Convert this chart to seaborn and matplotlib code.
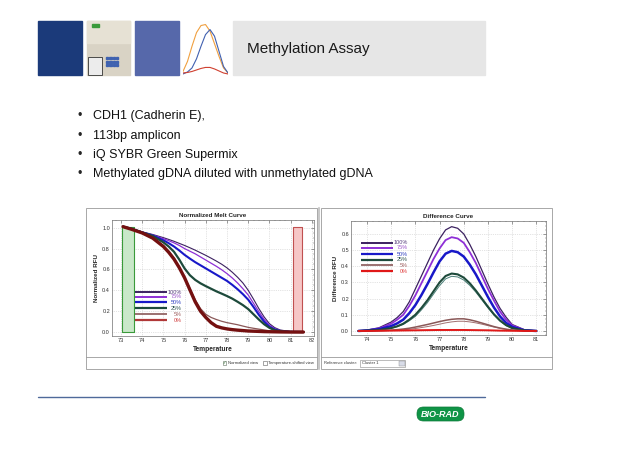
import matplotlib.pyplot as plt
import seaborn as sns
import pandas as pd
from matplotlib.patches import Rectangle, FancyBboxPatch
from matplotlib.ticker import MultipleLocator

# Dados
samples = ['100%', '75%', '50%', '25%', '5%', '0%']

melt_temp = [73.1, 73.5, 74.0, 74.5, 75.0, 75.25, 75.5, 75.75, 76.0, 76.25,
             76.5, 76.75, 77.0, 77.25, 77.5, 77.75, 78.0, 78.25, 78.5, 78.75,
             79.0, 79.25, 79.5, 79.75, 80.0, 80.25, 80.5, 81.0, 81.6]
melt_100 = [1.01, 0.99, 0.96, 0.935, 0.905, 0.888, 0.87, 0.85, 0.83, 0.808,
            0.785, 0.76, 0.735, 0.708, 0.68, 0.65, 0.615, 0.573, 0.525, 0.47,
            0.40, 0.315, 0.225, 0.145, 0.08, 0.042, 0.02, 0.004, 0.0]
melt_75 = [1.01, 0.99, 0.96, 0.93, 0.895, 0.876, 0.855, 0.83, 0.80, 0.775,
           0.75, 0.72, 0.69, 0.66, 0.63, 0.597, 0.56, 0.518, 0.47, 0.415,
           0.355, 0.275, 0.195, 0.122, 0.065, 0.033, 0.015, 0.003, 0.0]
melt_50 = [1.01, 0.99, 0.955, 0.925, 0.88, 0.852, 0.82, 0.782, 0.74, 0.704,
           0.67, 0.64, 0.61, 0.58, 0.55, 0.52, 0.49, 0.452, 0.41, 0.363,
           0.31, 0.24, 0.165, 0.10, 0.05, 0.024, 0.01, 0.002, 0.0]
melt_25 = [1.01, 0.99, 0.955, 0.92, 0.86, 0.82, 0.77, 0.695, 0.61, 0.545,
           0.50, 0.467, 0.44, 0.415, 0.39, 0.368, 0.345, 0.32, 0.29, 0.258,
           0.22, 0.17, 0.12, 0.075, 0.04, 0.018, 0.008, 0.001, 0.0]
melt_5 = [1.01, 0.985, 0.95, 0.905, 0.83, 0.777, 0.71, 0.628, 0.53, 0.42,
          0.31, 0.225, 0.17, 0.14, 0.12, 0.103, 0.09, 0.08, 0.07, 0.057,
          0.045, 0.036, 0.028, 0.02, 0.012, 0.007, 0.004, 0.0, 0.0]
melt_0 = [1.01, 0.985, 0.95, 0.90, 0.82, 0.765, 0.70, 0.617, 0.52, 0.405,
          0.29, 0.20, 0.14, 0.09, 0.055, 0.04, 0.03, 0.023, 0.018, 0.014,
          0.01, 0.008, 0.006, 0.004, 0.003, 0.002, 0.001, 0.0, 0.0]
start_region = [73.05, 73.6]
end_region = [81.1, 81.55]
region_top = 1.01

diff_temp = [73.65, 74.0, 74.5, 75.0, 75.25, 75.5, 75.75, 76.0, 76.25, 76.5,
             76.75, 77.0, 77.25, 77.5, 77.75, 78.0, 78.25, 78.5, 78.75, 79.0,
             79.25, 79.5, 79.75, 80.0, 80.5, 81.0]
diff_100 = [0.0, 0.005, 0.02, 0.055, 0.083, 0.12, 0.18, 0.26, 0.34, 0.42,
            0.50, 0.57, 0.625, 0.645, 0.635, 0.60, 0.535, 0.46, 0.375, 0.29,
            0.21, 0.14, 0.085, 0.04, 0.008, 0.0]
diff_75 = [0.0, 0.004, 0.016, 0.045, 0.07, 0.10, 0.155, 0.22, 0.295, 0.37,
           0.445, 0.51, 0.562, 0.58, 0.572, 0.545, 0.487, 0.42, 0.34, 0.26,
           0.188, 0.12, 0.07, 0.035, 0.006, 0.0]
diff_50 = [0.0, 0.003, 0.011, 0.03, 0.047, 0.07, 0.11, 0.16, 0.222, 0.29,
           0.362, 0.43, 0.478, 0.495, 0.487, 0.46, 0.41, 0.35, 0.28, 0.21,
           0.145, 0.09, 0.05, 0.025, 0.004, 0.0]
diff_25 = [0.0, 0.002, 0.006, 0.018, 0.029, 0.045, 0.07, 0.10, 0.142, 0.19,
           0.245, 0.30, 0.34, 0.355, 0.35, 0.33, 0.295, 0.25, 0.20, 0.15,
           0.103, 0.065, 0.036, 0.018, 0.003, 0.0]
diff_25b = [0.0, 0.002, 0.005, 0.016, 0.026, 0.04, 0.063, 0.09, 0.13, 0.175,
            0.228, 0.28, 0.322, 0.338, 0.334, 0.315, 0.282, 0.24, 0.192, 0.143,
            0.098, 0.06, 0.033, 0.016, 0.003, 0.0]
diff_5 = [0.0, 0.0, 0.002, 0.005, 0.008, 0.012, 0.017, 0.024, 0.032, 0.04,
          0.049, 0.058, 0.066, 0.072, 0.075, 0.075, 0.069, 0.06, 0.049, 0.038,
          0.027, 0.018, 0.011, 0.006, 0.001, 0.0]
diff_5b = [0.0, 0.0, 0.001, 0.003, 0.005, 0.007, 0.011, 0.015, 0.021, 0.027,
           0.034, 0.042, 0.05, 0.056, 0.06, 0.06, 0.056, 0.05, 0.042, 0.033,
           0.024, 0.016, 0.01, 0.005, 0.001, 0.0]
diff_0 = [0.0, 0.0, 0.001, 0.002, 0.0025, 0.003, 0.0035, 0.004, 0.0045, 0.005,
          0.0055, 0.006, 0.006, 0.006, 0.006, 0.006, 0.0055, 0.005, 0.0045, 0.004,
          0.003, 0.002, 0.0015, 0.001, 0.0, 0.0]

# miniatura no cabeçalho
icon_x = [0, 1, 2, 3, 4, 5, 6, 7, 8, 9, 10]
icon_orange = [0.05, 0.25, 0.55, 0.82, 0.96, 0.98, 0.85, 0.6, 0.35, 0.12, 0.02]
icon_blue = [0.0, 0.04, 0.12, 0.3, 0.55, 0.78, 0.88, 0.75, 0.45, 0.15, 0.02]
icon_red = [0.02, 0.03, 0.05, 0.08, 0.11, 0.13, 0.13, 0.1, 0.06, 0.02, 0.0]

bullets = ['CDH1 (Cadherin E),', '113bp amplicon', 'iQ SYBR Green Supermix',
           'Methylated gDNA diluted with unmethylated gDNA']

line_cols = ['#3b2160', '#8e2fd6', '#1818c8', '#1d4a3b', '#8a5858']
key_cols = ['#5a4080', '#9a50c8', '#3040c0', '#305550', '#a06262']

sns.set_style('white')
plt.rcParams['font.family'] = ['Liberation Sans', 'DejaVu Sans']

W, H = 638, 451
fig = plt.figure(figsize=(W / 100, H / 100), dpi=100)
bg = fig.add_axes([0, 0, 1, 1])
bg.set_xlim(0, W)
bg.set_ylim(H, 0)
bg.axis('off')


def px_axes(l, t, r, b):
    return fig.add_axes([l / W, 1 - b / H, (r - l) / W, (b - t) / H])


# cabeçalho
bg.add_patch(Rectangle((38, 21), 44, 54, color='#1b3a7a'))
bg.add_patch(Rectangle((87, 21), 43, 54, color='#d9d3c5'))
bg.add_patch(Rectangle((87, 21), 43, 22, color='#e6e1d4'))
bg.add_patch(Rectangle((92, 24), 7, 3, color='#3a9a3a'))
bg.add_patch(Rectangle((88, 57), 14, 18, facecolor='#ececec', edgecolor='#333333', lw=0.6))
for i in range(3):
    for j in range(4):
        bg.add_patch(Rectangle((106 + j * 3.4, 57 + i * 3.6), 2.2, 2.2, color='#3f62b0'))
bg.add_patch(Rectangle((135, 21), 44, 54, color='#5668aa'))
bg.add_patch(Rectangle((233, 21), 252, 54, color='#e6e6e6'))
bg.text(247, 49, 'Methylation Assay', fontsize=11, va='center', color='#1a1a1a')

icon = px_axes(183, 21, 228, 75)
icon.set_facecolor('#e6e6e6')
sns.lineplot(x=icon_x, y=icon_orange, color='#f0a040', lw=0.8, ax=icon)
sns.lineplot(x=icon_x, y=icon_blue, color='#4060b0', lw=0.8, ax=icon)
sns.lineplot(x=icon_x, y=icon_red, color='#d04030', lw=0.8, ax=icon)
icon.set_xlim(0, 10)
icon.set_ylim(-0.02, 1.05)
icon.axis('off')

for i, txt in enumerate(bullets):
    y = 116.5 + i * 19.3
    bg.text(78, y, '•', fontsize=9, va='center')
    bg.text(93, y, txt, fontsize=9, va='center', color='#111111')

# painéis dos gráficos
for x0 in (86, 321):
    bg.add_patch(Rectangle((x0, 208), 231, 161, facecolor='white', edgecolor='#9a9a9a', lw=0.6))
    bg.plot([x0, x0 + 231], [357, 357], color='#9a9a9a', lw=0.6)
bg.plot([318.5, 318.5], [208, 369], color='#c8c8c8', lw=1.5)

# faixa inferior esquerda
bg.add_patch(Rectangle((222.5, 361.2), 3.8, 3.8, facecolor='white', edgecolor='#607060', lw=0.4))
bg.text(224.4, 363.1, '✓', fontsize=3, ha='center', va='center', color='#207020')
bg.text(228.5, 363.2, 'Normalized view', fontsize=3.0, va='center', color='#333333')
bg.add_patch(Rectangle((263, 361.2), 3.8, 3.8, facecolor='white', edgecolor='#606060', lw=0.4))
bg.text(268.5, 363.2, 'Temperature-shifted view', fontsize=3.0, va='center', color='#333333')

# faixa inferior direita
bg.text(323.5, 363.2, 'Reference cluster:', fontsize=3.0, va='center', color='#333333')
bg.add_patch(Rectangle((360, 360), 45, 6.5, facecolor='white', edgecolor='#8a8a8a', lw=0.4))
bg.add_patch(Rectangle((399, 360.5), 5.5, 5.5, facecolor='#d8dce8', edgecolor='#8a8a8a', lw=0.3))
bg.text(362, 363.2, 'Cluster 1', fontsize=3.0, va='center', color='#333333')

# rodapé
bg.plot([38, 485], [397, 397], color='#4f6a9a', lw=1)
bg.add_patch(FancyBboxPatch((417, 407), 47, 14,
                            boxstyle='round,pad=0,rounding_size=6.5',
                            facecolor='#0f9446', edgecolor='#0b7a38', lw=0.5))
bg.text(440.5, 414.3, 'BIO-RAD', fontsize=6.5, color='white', fontweight='bold',
        fontstyle='italic', ha='center', va='center')


def style_axes(ax, xmaj, ymaj, xmin, ymin):
    ax.set_facecolor('white')
    ax.xaxis.set_major_locator(MultipleLocator(xmaj))
    ax.yaxis.set_major_locator(MultipleLocator(ymaj))
    ax.xaxis.set_minor_locator(MultipleLocator(xmin))
    ax.yaxis.set_minor_locator(MultipleLocator(ymin))
    ax.grid(True, which='major', color='#c8c8c8', ls=':', lw=0.5)
    ax.tick_params(which='both', direction='in', top=True, right=True,
                   labelsize=4, colors='#555555', labelcolor='#333333', pad=1.5)
    ax.tick_params(which='major', length=2, width=0.4)
    ax.tick_params(which='minor', length=1, width=0.3)
    for s in ax.spines.values():
        s.set_color('#707070')
        s.set_linewidth(0.5)


def draw_key(ax, x0, x1, xt, tops, cols, tcols, widths):
    for lab, y, c, tc, w in zip(samples, tops, cols, tcols, widths):
        ax.plot([x0, x1], [y, y], color=c, lw=w, transform=ax.transAxes, solid_capstyle='butt')
        ax.text(xt, y, lab, color=tc, fontsize=4, ha='right', va='center',
                transform=ax.transAxes)


# curva de melt normalizada
ax1 = px_axes(112, 220, 314, 336)
ax1.fill_between(start_region, 0, region_top, facecolor='#c9e8c9', edgecolor='#3a9a3a', lw=0.8)
ax1.fill_between(end_region, 0, region_top, facecolor='#f6c6c6', edgecolor='#c05050', lw=0.8)
melt = pd.DataFrame({'Temperature': melt_temp, '100%': melt_100, '75%': melt_75,
                     '50%': melt_50, '25%': melt_25, '5%': melt_5, '0%': melt_0})
melt_cols = line_cols + ['#741010']
melt_lw = [0.8, 0.9, 1.5, 1.6, 0.9, 2.4]
for s, c, w in zip(samples, melt_cols, melt_lw):
    sns.lineplot(data=melt, x='Temperature', y=s, color=c, lw=w, ax=ax1)
ax1.set_xlim(72.58, 82.1)
ax1.set_ylim(-0.038, 1.074)
style_axes(ax1, 1, 0.2, 0.25, 0.05)
ax1.yaxis.set_major_formatter(plt.FormatStrFormatter('%.1f'))
ax1.set_title('Normalized Melt Curve', fontsize=4.5, fontweight='bold', pad=2.5, color='#222222')
ax1.set_xlabel('Temperature', fontsize=4.8, fontweight='bold', labelpad=2)
ax1.set_ylabel('Normalized RFU', fontsize=4.5, fontweight='bold', labelpad=2)
draw_key(ax1, 0.114, 0.272, 0.345, [0.378, 0.34, 0.29, 0.238, 0.186, 0.134],
         melt_cols[:5] + ['#b03838'], key_cols + ['#d04040'], [1.4, 1.4, 1.6, 1.6, 1.2, 1.6])

# curva de diferença
ax2 = px_axes(351, 221, 546, 335)
diff = pd.DataFrame({'Temperature': diff_temp, '100%': diff_100, '75%': diff_75,
                     '50%': diff_50, '25%': diff_25, '5%': diff_5, '0%': diff_0})
sns.lineplot(x=diff_temp, y=diff_25b, color='#4a8078', lw=0.7, ax=ax2)
sns.lineplot(x=diff_temp, y=diff_5b, color='#a07070', lw=0.7, ax=ax2)
diff_cols = line_cols + ['#e01818']
diff_lw = [0.9, 1.3, 1.8, 1.5, 1.1, 1.4]
for s, c, w in zip(samples, diff_cols, diff_lw):
    sns.lineplot(data=diff, x='Temperature', y=s, color=c, lw=w, ax=ax2)
ax2.set_xlim(73.34, 81.4)
ax2.set_ylim(-0.025, 0.68)
style_axes(ax2, 1, 0.1, 0.25, 0.025)
ax2.yaxis.set_major_formatter(plt.FormatStrFormatter('%.1f'))
ax2.set_title('Difference Curve', fontsize=4.5, fontweight='bold', pad=2.5, color='#222222')
ax2.set_xlabel('Temperature', fontsize=4.8, fontweight='bold', labelpad=2)
ax2.set_ylabel('Difference RFU', fontsize=4.5, fontweight='bold', labelpad=2)
draw_key(ax2, 0.051, 0.215, 0.29, [0.81, 0.765, 0.71, 0.66, 0.61, 0.56],
         diff_cols, key_cols + ['#e04040'], [1.4, 1.4, 1.6, 1.6, 1.2, 1.6])

fig.savefig('out.png', dpi=100)
